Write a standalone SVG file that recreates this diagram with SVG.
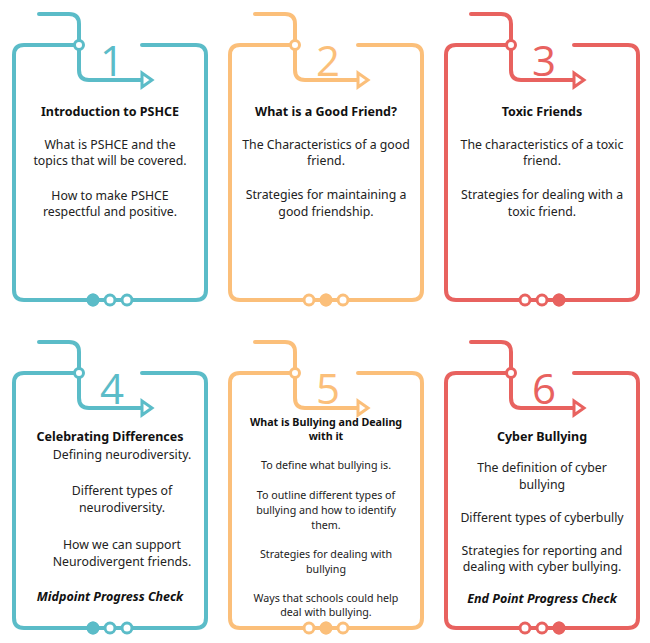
<svg xmlns="http://www.w3.org/2000/svg" width="650" height="643" viewBox="0 0 650 643">
<style>
.fr{fill:none;stroke-width:4;stroke-linecap:round}
.o{fill:#fff;stroke-width:3}
.num{font-family:"Open Sans",sans-serif;font-weight:400;font-size:42px;text-anchor:middle}
.t{font-family:"Noto Sans","Liberation Sans",sans-serif;font-size:12.5px;font-weight:bold;fill:#111;text-anchor:middle}
.b{font-family:"Noto Sans","Liberation Sans",sans-serif;font-size:12.3px;fill:#222;text-anchor:middle}
.s{font-size:10.7px}
.i{font-style:italic}
.teal{stroke:#5bbcc8;fill:#5bbcc8}
.org{stroke:#fbbf7a;fill:#fbbf7a}
.red{stroke:#e8625f;fill:#e8625f}
</style>
<defs>
<g id="frame">
<path class="fr" d="M25 -31 H55 Q65 -31 65 -21 V25 Q65 35 75 35 H128 M60.5 0 H10 Q0 0 0 10 V245 Q0 255 10 255 H182 Q192 255 192 245 V10 Q192 0 182 0 H128"/>
<polygon class="o" points="128,28 138,35 128,42"/>
<circle class="o" cx="65" cy="0" r="4.5"/>
<circle class="o" cx="79" cy="255" r="5"/>
<circle class="o" cx="96" cy="255" r="5"/>
<circle class="o" cx="113" cy="255" r="5"/>
</g>
</defs>
<g id="card1" transform="translate(14,45)" class="teal">
<use href="#frame"/><circle cx="79" cy="255" r="6"/>
<text class="num" x="98" y="31" stroke="none">1</text>
</g>
<g id="card2" transform="translate(230,45)" class="org">
<use href="#frame"/><circle cx="96" cy="255" r="6"/>
<text class="num" x="98" y="31" stroke="none">2</text>
</g>
<g id="card3" transform="translate(446,45)" class="red">
<use href="#frame"/><circle cx="113" cy="255" r="6"/>
<text class="num" x="98" y="31" stroke="none">3</text>
</g>
<g id="card4" transform="translate(14,373)" class="teal">
<use href="#frame"/><circle cx="79" cy="255" r="6"/>
<text class="num" x="98" y="31" stroke="none">4</text>
</g>
<g id="card5" transform="translate(230,373)" class="org">
<use href="#frame"/><circle cx="96" cy="255" r="6"/>
<text class="num" x="98" y="31" stroke="none">5</text>
</g>
<g id="card6" transform="translate(446,373)" class="red">
<use href="#frame"/><circle cx="113" cy="255" r="6"/>
<text class="num" x="98" y="31" stroke="none">6</text>
</g>
<g id="texts">
<text class="t" x="110" y="116">Introduction to PSHCE</text>
<text class="b" x="110" y="149">What is PSHCE and the</text>
<text class="b" x="110" y="165">topics that will be covered.</text>
<text class="b" x="110" y="200">How to make PSHCE</text>
<text class="b" x="110" y="216">respectful and positive.</text>

<text class="t" x="326" y="116">What is a Good Friend?</text>
<text class="b" x="326" y="149">The Characteristics of a good</text>
<text class="b" x="326" y="165">friend.</text>
<text class="b" x="326" y="199">Strategies for maintaining a</text>
<text class="b" x="326" y="216">good friendship.</text>

<text class="t" x="542" y="116">Toxic Friends</text>
<text class="b" x="542" y="149">The characteristics of a toxic</text>
<text class="b" x="542" y="165">friend.</text>
<text class="b" x="542" y="199">Strategies for dealing with a</text>
<text class="b" x="542" y="216">toxic friend.</text>

<text class="t" x="110" y="441">Celebrating Differences</text>
<text class="b" x="122" y="459">Defining neurodiversity.</text>
<text class="b" x="122" y="495">Different types of</text>
<text class="b" x="122" y="512">neurodiversity.</text>
<text class="b" x="122" y="549">How we can support</text>
<text class="b" x="122" y="566">Neurodivergent friends.</text>
<text class="t i" x="110" y="601">Midpoint Progress Check</text>

<text class="t s" x="326" y="426">What is Bullying and Dealing</text>
<text class="t s" x="326" y="440">with it</text>
<text class="b s" x="326" y="469">To define what bullying is.</text>
<text class="b s" x="326" y="499">To outline different types of</text>
<text class="b s" x="326" y="514">bullying and how to identify</text>
<text class="b s" x="326" y="529">them.</text>
<text class="b s" x="326" y="558">Strategies for dealing with</text>
<text class="b s" x="326" y="573">bullying</text>
<text class="b s" x="326" y="602">Ways that schools could help</text>
<text class="b s" x="326" y="616">deal with bullying.</text>

<text class="t" x="542" y="441">Cyber Bullying</text>
<text class="b" x="542" y="472">The definition of cyber</text>
<text class="b" x="542" y="489">bullying</text>
<text class="b" x="542" y="522">Different types of cyberbully</text>
<text class="b" x="542" y="555">Strategies for reporting and</text>
<text class="b" x="542" y="571">dealing with cyber bullying.</text>
<text class="t i" x="542" y="603">End Point Progress Check</text>
</g>
</svg>
